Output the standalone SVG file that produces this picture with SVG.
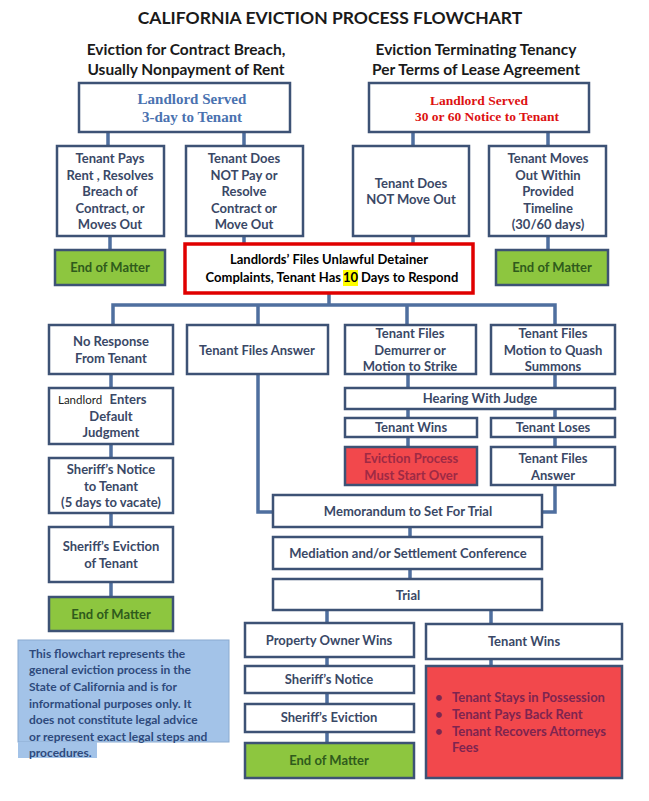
<svg xmlns="http://www.w3.org/2000/svg" width="649" height="801" viewBox="0 0 649 801">
<style>
.bx{fill:#fff;stroke:#3d5275;stroke-width:2.5}
.gr{fill:#8dc63f;stroke:#3d5275;stroke-width:2.5}
.rd{fill:#f2484c;stroke:#3d5275;stroke-width:2.5}
.c{stroke:#4f6f9f;stroke-width:3.5;fill:none}
text{font-family:Lato,"Liberation Sans",sans-serif;font-weight:bold}
.t{font-size:13px;fill:#3a4866;text-anchor:middle}
.tg{font-size:13px;fill:#2f5b1c;text-anchor:middle}
.h{font-size:15.5px;fill:#1a1a1a;text-anchor:middle}
.sv{font-family:"Liberation Serif",serif;font-size:14px;text-anchor:middle}
</style>
<rect width="649" height="801" fill="#fff"/>
<text x="330" y="24" style="font-size:17.5px;fill:#1a1a1a;text-anchor:middle">CALIFORNIA EVICTION PROCESS FLOWCHART</text>
<text class="h" x="186" y="55">Eviction for Contract Breach,</text>
<text class="h" x="186" y="75">Usually Nonpayment of Rent</text>
<text class="h" x="476" y="55">Eviction Terminating Tenancy</text>
<text class="h" x="476" y="75">Per Terms of Lease Agreement</text>

<g id="connectors">
<path class="c" d="M108 132V146M244 132V146M413 132V146M548 132V146"/>
<path class="c" d="M110 236V250M244 236V243M413 236V243M548 236V250"/>
<path class="c" d="M329 294V305M113 325V305H555V325M258 305V325M407 305V325"/>
<path class="c" d="M111 374V388M111 444V458M111 513V527M111 582V597"/>
<path class="c" d="M408 374V388M555 374V388M408 409V418M555 409V418M408 437V447M555 437V447"/>
<path class="c" d="M258 374V512H273M555 485V512H542"/>
<path class="c" d="M410 527V537M410 569V579M327 610V623M491 610V624"/>
<path class="c" d="M327 657V666M327 693V704M327 732V743M491 659V666"/>
</g>

<g id="n-ll3"><rect class="bx" x="79" y="83" width="211" height="49"/>
<text class="sv" x="192" y="104" style="fill:#4a72b0;font-size:15px">Landlord Served</text>
<text class="sv" x="192" y="122" style="fill:#4a72b0;font-size:15px">3-day to Tenant</text></g>
<g id="n-ll30"><rect class="bx" x="369" y="83" width="220" height="49"/>
<text class="sv" x="479" y="105" style="fill:#dd1111;font-size:13.5px">Landlord Served</text>
<text class="sv" x="487" y="121" style="fill:#dd1111;font-size:13.5px">30 or 60 Notice to Tenant</text></g>

<g id="n-pays"><rect class="bx" x="57" y="146" width="107" height="90"/>
<text class="t" x="110" y="163">Tenant Pays</text><text class="t" x="110" y="180">Rent , Resolves</text><text class="t" x="110" y="196">Breach of</text><text class="t" x="110" y="213">Contract, or</text><text class="t" x="110" y="229">Moves Out</text></g>
<g id="n-notpay"><rect class="bx" x="186" y="146" width="117" height="90"/>
<text class="t" x="244" y="163">Tenant Does</text><text class="t" x="244" y="180">NOT Pay or</text><text class="t" x="244" y="196">Resolve</text><text class="t" x="244" y="213">Contract or</text><text class="t" x="244" y="229">Move Out</text></g>
<g id="n-notmove"><rect class="bx" x="353" y="146" width="116" height="90"/>
<text class="t" x="411" y="188">Tenant Does</text><text class="t" x="411" y="204">NOT Move Out</text></g>
<g id="n-moves"><rect class="bx" x="489" y="146" width="117" height="90"/>
<text class="t" x="548" y="163">Tenant Moves</text><text class="t" x="548" y="180">Out Within</text><text class="t" x="548" y="196">Provided</text><text class="t" x="548" y="213">Timeline</text><text class="t" x="548" y="229">(30/60 days)</text></g>

<g id="n-end1"><rect class="gr" x="55" y="250" width="110" height="35"/><text class="tg" x="110" y="272">End of Matter</text></g>
<g id="n-end2"><rect class="gr" x="496" y="250" width="112" height="35"/><text class="tg" x="552" y="272">End of Matter</text></g>

<g id="n-ud"><rect x="185" y="244" width="288" height="49" fill="#fff" stroke="#e00000" stroke-width="3.5"/>
<text x="329" y="264" style="font-size:13px;fill:#000;text-anchor:middle">Landlords’ Files Unlawful Detainer</text>
<rect x="343" y="270" width="15" height="16" fill="#ffff00"/>
<text x="341" y="282" style="font-size:13px;fill:#000;text-anchor:end">Complaints, Tenant Has</text>
<text x="350.5" y="282" style="font-size:13px;fill:#000;text-anchor:middle">10</text>
<text x="361" y="282" style="font-size:13px;fill:#000">Days to Respond</text></g>

<g id="n-noresp"><rect class="bx" x="49" y="325" width="124" height="49"/>
<text class="t" x="111" y="346">No Response</text><text class="t" x="111" y="363">From Tenant</text></g>
<g id="n-answer"><rect class="bx" x="187" y="325" width="141" height="49"/>
<text class="t" x="257" y="355">Tenant Files Answer</text></g>
<g id="n-demurrer"><rect class="bx" x="345" y="325" width="131" height="49"/>
<text class="t" x="410" y="338">Tenant Files</text><text class="t" x="410" y="355">Demurrer or</text><text class="t" x="410" y="371">Motion to Strike</text></g>
<g id="n-quash"><rect class="bx" x="491" y="325" width="124" height="49"/>
<text class="t" x="553" y="338">Tenant Files</text><text class="t" x="553" y="355">Motion to Quash</text><text class="t" x="553" y="371">Summons</text></g>

<g id="n-default"><rect class="bx" x="49" y="388" width="124" height="56"/>
<text x="58" y="404" style="font-size:11.5px;fill:#222;font-weight:normal">Landlord</text><text class="t" x="128" y="404">Enters</text>
<text class="t" x="111" y="421">Default</text><text class="t" x="111" y="437">Judgment</text></g>
<g id="n-shnotice"><rect class="bx" x="49" y="458" width="124" height="55"/>
<text class="t" x="111" y="474">Sheriff’s Notice</text><text class="t" x="111" y="491">to Tenant</text><text class="t" x="111" y="507">(5 days to vacate)</text></g>
<g id="n-shevict"><rect class="bx" x="49" y="527" width="124" height="55"/>
<text class="t" x="111" y="551">Sheriff’s Eviction</text><text class="t" x="111" y="568">of Tenant</text></g>
<g id="n-end3"><rect class="gr" x="49" y="597" width="124" height="34"/><text class="tg" x="111" y="619">End of Matter</text></g>

<g id="n-hearing"><rect class="bx" x="345" y="388" width="270" height="21"/><text class="t" x="480" y="403">Hearing With Judge</text></g>
<g id="n-twins"><rect class="bx" x="345" y="418" width="132" height="19"/><text class="t" x="411" y="432">Tenant Wins</text></g>
<g id="n-tloses"><rect class="bx" x="491" y="418" width="124" height="19"/><text class="t" x="553" y="432">Tenant Loses</text></g>
<g id="n-startover"><rect class="rd" x="345" y="447" width="132" height="38"/>
<text x="411" y="463" style="font-size:13px;fill:#9e2a45;text-anchor:middle">Eviction Process</text><text x="411" y="480" style="font-size:13px;fill:#9e2a45;text-anchor:middle">Must Start Over</text></g>
<g id="n-answer2"><rect class="bx" x="491" y="447" width="124" height="38"/>
<text class="t" x="553" y="463">Tenant Files</text><text class="t" x="553" y="480">Answer</text></g>

<g id="n-memo"><rect class="bx" x="273" y="495" width="269" height="32"/><text class="t" x="408" y="516">Memorandum to Set For Trial</text></g>
<g id="n-mediation"><rect class="bx" x="273" y="537" width="269" height="32"/><text class="t" x="408" y="558">Mediation and/or Settlement Conference</text></g>
<g id="n-trial"><rect class="bx" x="273" y="579" width="269" height="31"/><text class="t" x="408" y="600">Trial</text></g>

<g id="n-owner"><rect class="bx" x="245" y="623" width="169" height="34"/><text class="t" x="329" y="645">Property Owner Wins</text></g>
<g id="n-twins2"><rect class="bx" x="426" y="624" width="196" height="35"/><text class="t" x="524" y="646">Tenant Wins</text></g>
<g id="n-shn2"><rect class="bx" x="245" y="666" width="169" height="27"/><text class="t" x="329" y="684">Sheriff’s Notice</text></g>
<g id="n-she2"><rect class="bx" x="245" y="704" width="169" height="28"/><text class="t" x="329" y="722">Sheriff’s Eviction</text></g>
<g id="n-end4"><rect class="gr" x="245" y="743" width="169" height="35"/><text class="tg" x="329" y="765">End of Matter</text></g>
<g id="n-outcome"><rect class="rd" x="426" y="666" width="196" height="112"/>
<g style="font-size:13px;fill:#7e2450">
<text x="435" y="702">•</text><text x="452" y="702">Tenant Stays in Possession</text>
<text x="435" y="719">•</text><text x="452" y="719">Tenant Pays Back Rent</text>
<text x="435" y="736">•</text><text x="452" y="736">Tenant Recovers Attorneys</text>
<text x="452" y="752">Fees</text></g></g>

<g id="disclaimer">
<rect x="18" y="640" width="211" height="102" fill="#a3c3e8" stroke="#8aaad0" stroke-width="1"/>
<rect x="18" y="742" width="79" height="16" fill="#a3c3e8"/>
<g style="font-size:12px;fill:#2e4a7c">
<text x="29" y="658">This flowchart represents the</text>
<text x="29" y="674">general eviction process in the</text>
<text x="29" y="691">State of California and is for</text>
<text x="29" y="708">informational purposes only. It</text>
<text x="29" y="724">does not constitute legal advice</text>
<text x="29" y="741">or represent exact legal steps and</text>
<text x="29" y="757">procedures.</text></g></g>
</svg>
